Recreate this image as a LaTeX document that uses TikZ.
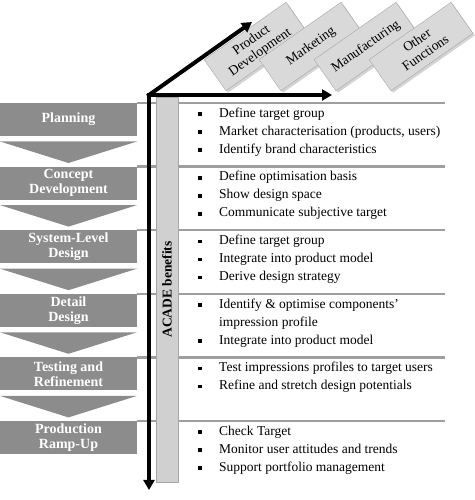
\documentclass[tikz,border=0pt]{standalone}
\usepackage{fontspec}
\setmainfont{Liberation Serif}
\usetikzlibrary{arrows.meta,positioning,calc,shadows}
\definecolor{stagegray}{HTML}{8C8C8C}
\definecolor{boxgray}{HTML}{D9D9D9}
\definecolor{bargray}{HTML}{D0D0D0}
\definecolor{rimgray}{HTML}{A6A6A6}
\definecolor{linegray}{HTML}{9E9E9E}
\newcommand{\bul}{\makebox[21pt][l]{\rule[1.2pt]{3.6pt}{3.6pt}}}

\begin{document}
\begin{tikzpicture}[x=1pt,y=1pt,node distance=30.6pt,
 stage/.style={fill=stagegray,text=white,minimum width=137pt,minimum height=33pt,inner sep=1pt,
 outer sep=0pt,align=center,font=\fontsize{14}{15}\selectfont\bfseries},
 chev/.style={fill=stagegray},
 sep/.style={draw=linegray,line width=2.4pt},
 group/.style={inner sep=0pt,align=left,font=\fontsize{13.5}{18}\selectfont},
 func/.style={draw=rimgray,fill=boxgray,rotate=35,minimum width=100pt,minimum height=38pt,
 align=center,inner sep=1pt,font=\fontsize{13.5}{15}\selectfont,
 drop shadow={opacity=0.35,shadow xshift=2pt,shadow yshift=-2pt}},
 axis/.style={line width=4pt,line cap=rect,-{Triangle[length=10pt,width=11pt]}}]
 \useasboundingbox (0,0) rectangle (474,500);
 % phases
 \node[stage] (s1) at (68.5,380.5) {Planning};
 \node[stage,below=of s1] (s2) {Concept\\Development};
 \node[stage,below=of s2] (s3) {System-Level\\Design};
 \node[stage,below=of s3] (s4) {Detail\\Design};
 \node[stage,below=of s4] (s5) {Testing and\\Refinement};
 \node[stage,below=of s5] (s6) {Production\\Ramp-Up};
 \fill[chev] ($(s1.south west)+(0,-5.5)$) -- ($(s1.south east)+(0,-5.5)$) -- ($(s1.south)+(0,-27)$) -- cycle;
 \fill[chev] ($(s2.south west)+(0,-5.5)$) -- ($(s2.south east)+(0,-5.5)$) -- ($(s2.south)+(0,-27)$) -- cycle;
 \fill[chev] ($(s3.south west)+(0,-5.5)$) -- ($(s3.south east)+(0,-5.5)$) -- ($(s3.south)+(0,-27)$) -- cycle;
 \fill[chev] ($(s4.south west)+(0,-5.5)$) -- ($(s4.south east)+(0,-5.5)$) -- ($(s4.south)+(0,-27)$) -- cycle;
 \fill[chev] ($(s5.south west)+(0,-5.5)$) -- ($(s5.south east)+(0,-5.5)$) -- ($(s5.south)+(0,-27)$) -- cycle;
 % rows
 \draw[sep] (s1.north east) -- ++(308,0);
 \draw[sep] (s2.north east) -- ++(308,0);
 \draw[sep] (s3.north east) -- ++(308,0);
 \draw[sep] (s4.north east) -- ++(308,0);
 \draw[sep] (s5.north east) -- ++(308,0);
 \draw[sep] (s6.north east) -- ++(308,0);
 \node[group,below right=4.5pt and 61pt of s1.north east] (g1) {\bul Define target group\\
 \bul Market characterisation (products, users)\\\bul Identify brand characteristics};
 \node[group,below right=4.5pt and 61pt of s2.north east] (g2) {\bul Define optimisation basis\\
 \bul Show design space\\\bul Communicate subjective target};
 \node[group,below right=4.5pt and 61pt of s3.north east] (g3) {\bul Define target group\\
 \bul Integrate into product model\\\bul Derive design strategy};
 \node[group,below right=4.5pt and 61pt of s4.north east] (g4) {\bul Identify \& optimise components'\\
 \hspace*{21pt}impression profile\\\bul Integrate into product model};
 \node[group,below right=4.5pt and 61pt of s5.north east] (g5) {\bul Test impressions profiles to target users\\
 \bul Refine and stretch design potentials};
 \node[group,below right=4.5pt and 61pt of s6.north east] (g6) {\bul Check Target\\
 \bul Monitor user attitudes and trends\\\bul Support portfolio management};
 % benefits bar
 \node[draw=rimgray,fill=bargray,rotate=90,minimum width=385pt,minimum height=22pt,inner sep=0pt,
 font=\fontsize{13.5}{15}\selectfont\bfseries] (bar) at (167,210.5) {ACADE benefits};
 % functions
 \node[func] (f1) at (256,453.5) {Product\\Development};
 \node[func] (f2) at (311,453.5) {Marketing};
 \node[func] (f3) at (366,453.5) {Manufacturing};
 \node[func] (f4) at (421,453.5) {Other\\Functions};
 % axes
 \coordinate (o) at (149,405);
 \coordinate (down) at (149,10);
 \coordinate (east) at (332,405);
 \coordinate (tilt) at (252,478);
 \draw[axis] (o) -- (down);
 \draw[axis] (o) -- (east);
 \draw[axis] (o) -- (tilt);
\end{tikzpicture}
\end{document}
